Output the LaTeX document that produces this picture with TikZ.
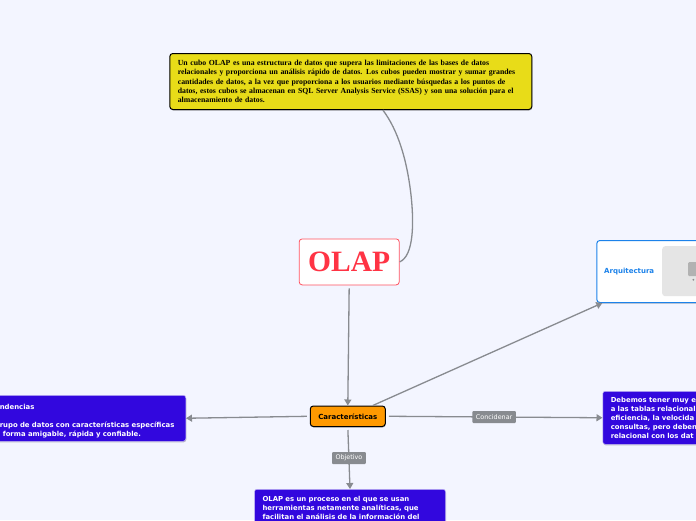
\documentclass[tikz,border=0pt]{standalone}
\usepackage{fontspec}
\usetikzlibrary{arrows.meta,shadows}
\setmainfont{Liberation Serif}
\newfontfamily\dvb{DejaVu Sans Bold}[]
\newfontfamily\dvr{DejaVu Sans}
\definecolor{bgc}{HTML}{F3F5FF}
\definecolor{blu}{HTML}{3207DE}
\definecolor{linec}{HTML}{888B90}
\definecolor{yel}{HTML}{E8DC18}
\definecolor{org}{HTML}{FF9900}
\definecolor{redc}{HTML}{FF3344}
\definecolor{arqc}{HTML}{1C82EA}
\tikzset{
  x=1pt,y=-1pt,
  softshadow/.style={drop shadow={shadow xshift=0.5pt,shadow yshift=-1pt,opacity=.35,fill=black!70}},
  bluebox/.style={anchor=north west,fill=blu,draw=white!70!blu,line width=.5pt,rounded corners=2.5pt,text=white,align=left,softshadow,inner ysep=0pt,font=\dvb\fontsize{6.9}{9}\selectfont},
  conn/.style={draw=linec,line width=1.3pt,shorten <=3pt,-{Triangle[width=7pt,length=6pt]}},
  lbl/.style={fill=linec,rounded corners=1pt,text=white,inner xsep=3.5pt,inner ysep=0pt,minimum height=12pt,font=\dvr\fontsize{6.4}{7}\selectfont},
}
\begin{document}
\begin{tikzpicture}
\useasboundingbox (0,0) rectangle (696,520);
\clip (0,0) rectangle (696,520);
\fill[bgc] (0,0) rectangle (696,520);

\node[anchor=north west,fill=yel,draw=black,line width=1pt,rounded corners=3pt,softshadow,
      minimum width=362pt,minimum height=56pt,inner xsep=8pt,inner ysep=0pt,text width=346pt,align=left,
      font=\bfseries\fontsize{7.77}{9.25}\selectfont] (yellow) at (169.3,53)
{Un cubo OLAP es una estructura de datos que supera las limitaciones de las bases de datos\\
relacionales y proporciona un análisis rápido de datos. Los cubos pueden mostrar y sumar grandes\\
cantidades de datos, a la vez que proporciona a los usuarios mediante búsquedas a los puntos de\\
datos, estos cubos se almacenan en SQL Server Analysis Service (SSAS) y son una solución para el\\
almacenamiento de datos.};

\node[anchor=north west,fill=white,draw=redc!85,line width=.8pt,rounded corners=3pt,
      minimum width=100pt,minimum height=46pt,inner sep=0pt,text=redc,
      font=\bfseries\fontsize{29.5}{32}\selectfont] (olap) at (298.8,238.5) {OLAP};

\node[anchor=north west,fill=org,draw=black,line width=1pt,rounded corners=3pt,softshadow,
      minimum width=75pt,minimum height=20.5pt,inner sep=0pt,
      font=\dvb\fontsize{7}{8}\selectfont] (char) at (309.8,405.5) {Características};

\node[anchor=north west,fill=white,draw=arqc,line width=1pt,rounded corners=3pt,softshadow,
      minimum width=112pt,minimum height=62pt,inner sep=0pt] (arq) at (596.3,240) {};
\node[anchor=west,text=arqc,inner sep=0pt,font=\dvb\fontsize{7}{8}\selectfont] (arqt) at (604,271.5) {Arquitectura};
\node[anchor=north west,fill=black!10,rounded corners=3pt,minimum width=50pt,minimum height=50pt,inner sep=0pt] (img) at (662,246) {};
\node[anchor=north west,fill=black!30,rounded corners=1pt,minimum width=12pt,minimum height=14pt,inner sep=0pt] (imgb) at (688,262) {};
\node[anchor=north west,fill=black!45,circle,minimum size=2pt,inner sep=0pt] (imgd) at (692.5,279) {};

\node[bluebox,minimum width=191pt,minimum height=46pt,inner xsep=5pt,text width=181pt] (tend) at (-5.5,395)
{\rule{0pt}{10pt}ndencias\\[9pt]rupo de datos con características específicas\\\hspace*{3pt}forma amigable, rápida y confiable.};

\node[bluebox,minimum width=110pt,minimum height=53pt,inner xsep=8pt,text width=94pt] (cons) at (602.5,391)
{Debemos tener muy e\\a las tablas relacional\\eficiencia, la velocida\\consultas, pero deben\\relacional con los dat};

\node[bluebox,anchor=north,minimum width=191pt,inner xsep=8pt,inner ysep=5pt,text width=175pt] (obj) at (350,489)
{\rule{0pt}{7pt}OLAP es un proceso en el que se usan\\herramientas netamente analíticas, que\\facilitan el análisis de la información del\\\rule{0pt}{14pt}};

\draw[conn] (olap.south) -- (char.north);
\draw[conn,shorten <=0pt] (char.north east) ++(-13,0) coordinate (cs) (cs) -- ([xshift=6pt]arq.south west);
\draw[conn] (char.west) -- (tend.east);
\draw[conn] (char.east) -- node[lbl] (l1) {Concidenar} (cons.west);
\draw[conn] (char.south) -- node[lbl] (l2) {Objetivo} (obj.north);
\draw[draw=linec,line width=1.3pt] (olap.east) .. controls (414,256) and (414,222) .. (411,195) .. controls (407,160) and (398,130) .. ([xshift=32pt]yellow.south);
\end{tikzpicture}
\end{document}
